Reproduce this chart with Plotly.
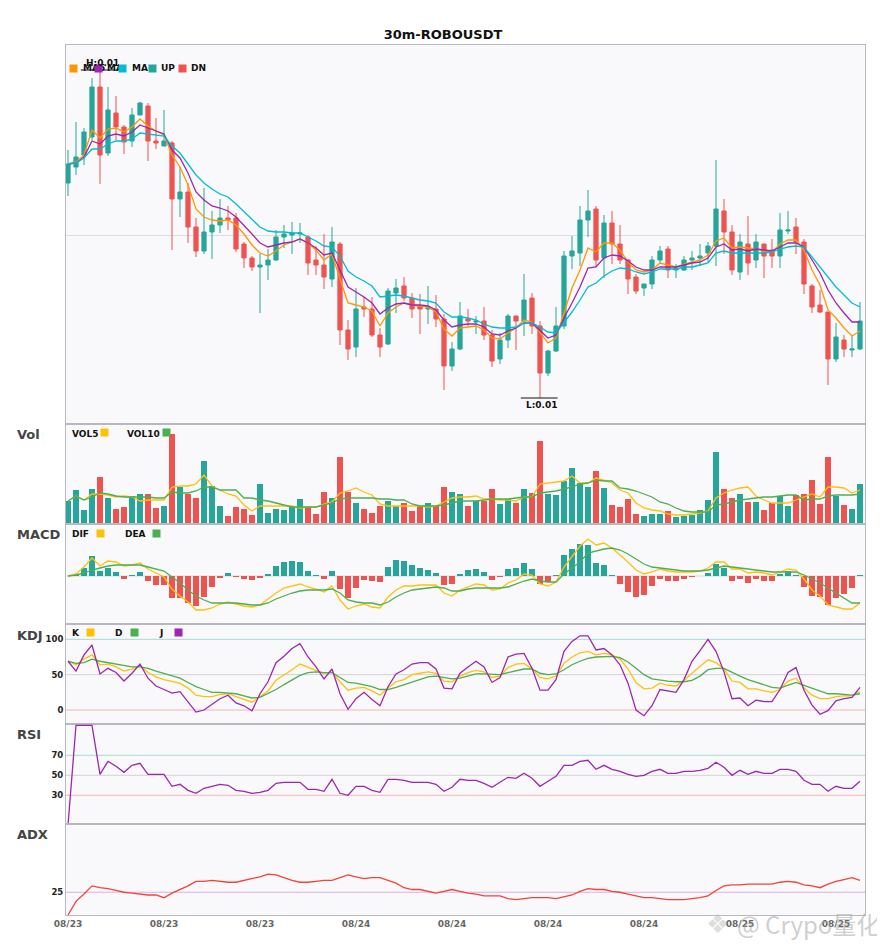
import plotly.graph_objects as go
from plotly.subplots import make_subplots

# --- DATA: 30m candles, 08/23 06:00 -> 08/25 05:30 ---
PRICE_UNIT = 1e-5  # price lists are in units of 0.00001 USDT

open_p = [1052, 1068, 1080, 1098, 1148, 1082, 1122, 1108, 1094, 1120,
          1129, 1094, 1089, 1092, 1036, 1043, 1008, 984, 1003, 1010,
          1017, 1017, 991, 977, 968, 970, 975, 998, 1000, 1001,
          998, 975, 970, 956, 991, 905, 888, 928, 926, 900,
          891, 942, 949, 937, 929, 926, 926, 916, 869, 886,
          916, 913, 914, 900, 876, 895, 919, 914, 937, 909,
          862, 884, 909, 979, 982, 1015, 1026, 977, 1012, 991,
          975, 958, 947, 951, 975, 986, 965, 965, 975, 977,
          982, 989, 1024, 1003, 963, 991, 975, 991, 985, 979,
          1004, 1008, 993, 949, 930, 923, 876, 895, 885, 886]
high_p = [1085, 1113, 1107, 1157, 1165, 1148, 1139, 1110, 1127, 1133,
          1132, 1117, 1125, 1094, 1068, 1052, 1017, 1047, 1024, 1036,
          1029, 1022, 993, 979, 981, 986, 1005, 1010, 1013, 1012,
          1000, 989, 1001, 1008, 993, 915, 947, 938, 938, 907,
          947, 956, 958, 942, 941, 949, 940, 921, 893, 933,
          926, 919, 928, 905, 902, 921, 919, 961, 942, 914,
          885, 928, 984, 999, 1029, 1045, 1029, 1020, 1024, 1010,
          976, 961, 951, 979, 989, 989, 971, 979, 984, 991,
          993, 1075, 1036, 1010, 1001, 1019, 1001, 991, 996, 1022,
          1024, 1017, 996, 951, 945, 923, 912, 900, 899, 933]
low_p = [1039, 1060, 1070, 1095, 1051, 1079, 1095, 1081, 1088, 1120,
         1074, 1086, 1089, 985, 1018, 992, 978, 981, 976, 1002,
         1005, 983, 967, 964, 922, 955, 974, 987, 981, 992,
         960, 960, 946, 948, 890, 875, 878, 918, 898, 878,
         890, 922, 934, 917, 901, 911, 908, 845, 864, 885,
         909, 901, 895, 868, 871, 887, 885, 899, 901, 837,
         859, 883, 906, 966, 969, 998, 968, 957, 971, 971,
         941, 941, 939, 946, 971, 957, 957, 964, 965, 969,
         973, 969, 981, 960, 955, 960, 967, 957, 967, 967,
         1001, 981, 941, 922, 922, 850, 873, 878, 878, 885]
close_p = [1071, 1078, 1103, 1148, 1080, 1125, 1108, 1093, 1120, 1132,
           1094, 1092, 1094, 1036, 1043, 1008, 984, 1003, 1010, 1017,
           1015, 986, 977, 968, 970, 975, 998, 1001, 1002, 1002,
           972, 970, 958, 993, 905, 886, 926, 926, 900, 888,
           944, 947, 937, 926, 926, 927, 916, 869, 886, 919,
           914, 914, 900, 874, 895, 919, 914, 935, 909, 862,
           884, 909, 979, 984, 1015, 1024, 975, 1012, 991, 975,
           956, 944, 951, 975, 984, 965, 967, 975, 977, 979,
           989, 1026, 1003, 965, 993, 972, 993, 979, 979, 1005,
           1005, 993, 951, 928, 923, 876, 898, 886, 886, 914]
ma5 = [1071, 1073, 1080, 1105, 1097, 1106, 1107, 1103, 1108, 1116,
       1109, 1104, 1100, 1080, 1068, 1050, 1026, 1018, 1015, 1014,
       1015, 1010, 1001, 990, 982, 979, 984, 990, 993, 996,
       992, 985, 975, 981, 956, 932, 930, 928, 924, 909,
       922, 928, 932, 930, 929, 928, 923, 906, 899, 907,
       908, 909, 905, 897, 896, 902, 907, 915, 913, 902,
       892, 897, 922, 947, 965, 987, 983, 992, 992, 985,
       973, 965, 963, 965, 972, 970, 968, 971, 973, 975,
       980, 994, 997, 987, 988, 987, 986, 984, 983, 991,
       995, 995, 985, 965, 950, 925, 917, 907, 899, 904]
ma10 = [1071, 1072, 1078, 1094, 1091, 1099, 1101, 1099, 1103, 1110,
        1107, 1104, 1101, 1085, 1077, 1062, 1043, 1035, 1029, 1027,
        1024, 1018, 1010, 1001, 992, 988, 990, 992, 993, 996,
        992, 987, 980, 982, 965, 948, 943, 938, 932, 921,
        927, 931, 932, 930, 930, 929, 925, 915, 908, 910,
        911, 911, 908, 901, 900, 904, 907, 912, 912, 904,
        897, 900, 917, 932, 948, 967, 968, 977, 980, 979,
        974, 968, 965, 965, 968, 968, 968, 970, 972, 973,
        977, 988, 991, 985, 986, 984, 986, 985, 984, 988,
        992, 992, 988, 975, 962, 945, 932, 922, 913, 913]
ma20 = [1071, 1072, 1077, 1086, 1086, 1091, 1094, 1094, 1096, 1102,
        1101, 1100, 1099, 1089, 1082, 1071, 1060, 1052, 1046, 1041,
        1038, 1031, 1023, 1015, 1008, 1004, 1003, 1003, 1002, 1002,
        998, 994, 989, 988, 979, 964, 958, 954, 949, 938,
        939, 940, 939, 937, 935, 934, 932, 923, 918, 918,
        917, 915, 911, 908, 907, 907, 908, 912, 912, 908,
        903, 902, 912, 923, 935, 948, 952, 959, 964, 967,
        966, 963, 961, 963, 966, 966, 966, 968, 968, 970,
        972, 982, 984, 982, 982, 982, 982, 982, 983, 986,
        988, 989, 988, 978, 969, 958, 948, 940, 932, 928]

volume = [23, 34, 14, 35, 47, 26, 15, 17, 28, 30,
          30, 16, 18, 90, 37, 30, 26, 63, 38, 18,
          8, 17, 15, 9, 40, 11, 15, 14, 18, 25,
          17, 10, 32, 26, 67, 32, 21, 15, 11, 18,
          23, 18, 21, 13, 18, 21, 18, 37, 32, 30,
          18, 23, 23, 35, 20, 25, 21, 35, 31, 83,
          30, 29, 43, 56, 41, 37, 53, 36, 19, 17,
          25, 10, 8, 10, 10, 13, 7, 8, 9, 14,
          24, 72, 35, 26, 30, 22, 22, 14, 21, 28,
          18, 29, 30, 44, 20, 67, 28, 19, 15, 40]
vol5 = [23, 28, 24, 30, 30, 29, 27, 28, 27, 23,
        24, 24, 24, 37, 38, 38, 40, 49, 38, 34,
        30, 28, 19, 13, 18, 18, 18, 18, 18, 16,
        17, 17, 20, 22, 31, 33, 36, 32, 29, 20,
        18, 18, 18, 18, 18, 17, 18, 22, 26, 27,
        27, 28, 25, 25, 24, 24, 23, 27, 27, 40,
        41, 42, 43, 48, 41, 41, 46, 44, 41, 34,
        31, 21, 16, 14, 13, 10, 9, 9, 10, 11,
        13, 26, 31, 34, 36, 37, 28, 24, 21, 21,
        21, 24, 27, 30, 27, 37, 37, 36, 31, 34]
vol10 = [23, 28, 24, 27, 31, 30, 28, 27, 27, 27,
         27, 26, 26, 32, 31, 31, 33, 37, 37, 34,
         34, 34, 26, 26, 24, 23, 21, 19, 17, 17,
         17, 17, 19, 21, 25, 26, 26, 26, 26, 25,
         25, 24, 24, 20, 18, 18, 18, 19, 21, 23,
         23, 23, 24, 25, 25, 25, 26, 27, 27, 31,
         32, 33, 35, 37, 40, 41, 44, 43, 43, 36,
         35, 33, 30, 27, 22, 20, 16, 13, 12, 12,
         12, 19, 20, 22, 24, 25, 26, 27, 27, 28,
         29, 29, 24, 25, 25, 28, 29, 29, 29, 30]

# MACD values in units of 1e-6
macd_hist = [0, 2, 8, 20, 5, 8, 4, -3, 1, 4,
             -5, -9, -9, -22, -22, -27, -30, -21, -11, -2,
             3, -1, -3, -4, -2, 2, 10, 14, 15, 14,
             5, 1, -3, 5, -13, -22, -12, -4, -5, -6,
             9, 16, 15, 11, 8, 6, 3, -9, -8, 2,
             6, 7, 4, -4, -1, 7, 8, 13, 7, -8,
             -6, 1, 21, 27, 32, 31, 13, 11, 1, -8,
             -16, -21, -19, -10, -3, -5, -5, -3, -1, 0,
             3, 12, 8, -5, -3, -7, -3, -5, -5, 2,
             5, 1, -11, -20, -21, -29, -22, -18, -12, 1]
dif = [0, 2, 9, 18, 10, 15, 14, 10, 11, 13,
       7, 3, -1, -13, -20, -26, -34, -34, -32, -28,
       -26, -28, -30, -31, -29, -23, -17, -12, -10, -8,
       -11, -13, -16, -10, -24, -33, -30, -28, -31, -32,
       -21, -14, -10, -10, -9, -9, -9, -17, -20, -14,
       -11, -8, -9, -14, -13, -7, -4, 2, 1, -8,
       -10, -6, 9, 19, 30, 37, 31, 33, 28, 21,
       14, 6, 2, 4, 7, 5, 4, 4, 4, 5,
       8, 14, 14, 7, 7, 3, 4, 3, 1, 4,
       7, 6, -3, -14, -20, -29, -31, -33, -33, -27]
dea = [0, 1, 3, 6, 8, 10, 11, 11, 11, 11,
       9, 7, 5, -1, -7, -14, -20, -24, -27, -27,
       -27, -27, -28, -29, -29, -27, -23, -20, -17, -15,
       -14, -14, -14, -13, -17, -24, -26, -27, -27, -29,
       -26, -21, -17, -14, -13, -12, -11, -12, -15, -15,
       -13, -12, -12, -12, -12, -11, -8, -5, -3, -5,
       -6, -6, 2, 8, 14, 23, 25, 27, 28, 26,
       22, 17, 12, 9, 8, 7, 6, 5, 5, 5,
       6, 8, 10, 9, 8, 7, 6, 5, 4, 4,
       4, 4, 1, -3, -7, -12, -17, -22, -27, -27]

k_line = [69, 64, 72, 78, 64, 65, 61, 55, 58, 63,
          53, 47, 43, 40, 38, 31, 21, 19, 19, 22,
          23, 19, 15, 11, 19, 27, 42, 49, 57, 65,
          60, 56, 52, 54, 40, 28, 31, 32, 27, 21,
          31, 40, 43, 50, 52, 54, 52, 41, 40, 48,
          53, 56, 54, 46, 48, 60, 65, 66, 58, 46,
          44, 48, 66, 75, 81, 83, 78, 80, 78, 72,
          58, 39, 30, 31, 38, 35, 34, 42, 52, 61,
          71, 67, 58, 41, 39, 30, 30, 27, 25, 29,
          41, 45, 31, 21, 16, 16, 19, 20, 20, 26]
d_line = [69, 66, 67, 72, 69, 67, 65, 62, 61, 61,
          59, 55, 52, 49, 45, 39, 33, 29, 25, 25,
          24, 23, 20, 17, 18, 23, 29, 36, 42, 49,
          53, 54, 53, 53, 46, 39, 38, 36, 33, 29,
          29, 32, 36, 39, 44, 47, 48, 46, 44, 45,
          48, 51, 51, 50, 50, 53, 55, 58, 58, 52,
          50, 51, 57, 64, 69, 73, 75, 75, 76, 74,
          68, 59, 50, 44, 42, 41, 40, 40, 42, 48,
          57, 59, 59, 53, 48, 43, 39, 35, 32, 31,
          35, 39, 35, 31, 26, 23, 23, 22, 21, 23]
j_line = [69, 55, 78, 92, 51, 59, 53, 41, 52, 65,
          45, 34, 29, 24, 26, 12, -3, 0, 8, 16,
          21, 10, 6, -1, 23, 40, 67, 76, 87, 94,
          75, 61, 44, 58, 23, 1, 16, 25, 15, 6,
          33, 51, 57, 65, 67, 67, 58, 31, 30, 52,
          61, 69, 61, 39, 46, 75, 79, 80, 59, 28,
          28, 43, 83, 97, 105, 105, 85, 87, 78, 64,
          38, 0, -8, 6, 29, 27, 25, 43, 69, 84,
          100, 83, 54, 16, 17, 6, 14, 12, 12, 29,
          53, 60, 28, 7, -6, -1, 13, 16, 18, 32]
rsi = [0, 100, 100, 100, 51, 64, 59, 53, 60, 62,
       51, 51, 51, 39, 41, 35, 32, 37, 39, 41,
       40, 35, 34, 32, 33, 35, 42, 43, 43, 43,
       36, 36, 34, 46, 32, 30, 39, 39, 35, 33,
       46, 46, 45, 43, 43, 43, 41, 34, 38, 46,
       45, 45, 42, 38, 43, 48, 47, 52, 47, 39,
       44, 49, 60, 60, 64, 65, 56, 60, 56, 54,
       51, 49, 50, 54, 56, 52, 52, 54, 54, 55,
       57, 63, 58, 50, 55, 51, 54, 52, 52, 56,
       56, 54, 45, 41, 41, 34, 39, 37, 37, 44]
adx = [0, 15, 23, 32, 30, 29, 27, 25, 24, 23,
       22, 22, 19, 24, 28, 32, 37, 37, 38, 37,
       36, 36, 38, 40, 42, 45, 44, 41, 38, 36,
       36, 37, 38, 38, 41, 44, 42, 40, 41, 41,
       38, 35, 30, 28, 28, 26, 24, 26, 28, 26,
       24, 23, 21, 21, 21, 18, 17, 18, 19, 19,
       19, 18, 20, 22, 26, 29, 28, 28, 26, 25,
       23, 21, 19, 19, 18, 17, 17, 17, 18, 19,
       21, 27, 32, 33, 33, 34, 34, 34, 34, 36,
       37, 36, 33, 32, 30, 34, 37, 39, 41, 38]

tick_labels = ["08/23", "08/23", "08/23", "08/24", "08/24",
               "08/24", "08/24", "08/25", "08/25"]

# --- STYLE ---
UP, DN = "#26a69a", "#ef5350"
ORANGE, PURPLE, CYAN = "#ff9800", "#9c27b0", "#00bcd4"
YELLOW, GREEN = "#ffc107", "#4caf50"
FONT = "DejaVu Sans"

n = len(close_p)
idx = list(range(n))
o = [v * PRICE_UNIT for v in open_p]
h = [v * PRICE_UNIT for v in high_p]
l = [v * PRICE_UNIT for v in low_p]
c = [v * PRICE_UNIT for v in close_p]
candle_colors = [UP if cc >= oo else DN for oo, cc in zip(open_p, close_p)]
hist_colors = [UP if v >= 0 else DN for v in macd_hist]

fig = make_subplots(rows=6, cols=1, shared_xaxes=True, vertical_spacing=0,
                    row_heights=[379, 100, 100, 100, 100, 91])

def line(y, color, row, scale=1.0, width=1.3):
    fig.add_trace(go.Scatter(x=idx, y=[v * scale for v in y], mode="lines",
                             line=dict(color=color, width=width),
                             hoverinfo="skip"), row=row, col=1)

# Main candles + MAs
fig.add_trace(go.Candlestick(
    x=idx, open=o, high=h, low=l, close=c, whiskerwidth=0,
    increasing=dict(line=dict(color=UP, width=1), fillcolor=UP),
    decreasing=dict(line=dict(color=DN, width=1), fillcolor=DN)), row=1, col=1)
line(ma5, ORANGE, 1, PRICE_UNIT)
line(ma10, PURPLE, 1, PRICE_UNIT)
line(ma20, CYAN, 1, PRICE_UNIT)

# Volume
fig.add_trace(go.Bar(x=idx, y=volume, marker=dict(color=candle_colors, line=dict(width=0)),
                     width=0.75), row=2, col=1)
line(vol5, YELLOW, 2)
line(vol10, GREEN, 2)

# MACD
fig.add_trace(go.Bar(x=idx, y=macd_hist, marker=dict(color=hist_colors, line=dict(width=0)),
                     width=0.75), row=3, col=1)
line(dif, YELLOW, 3)
line(dea, GREEN, 3)

# KDJ / RSI / ADX
line(k_line, YELLOW, 4)
line(d_line, GREEN, 4)
line(j_line, PURPLE, 4)
line(rsi, PURPLE, 5)
line(adx, "#f44336", 6)

# reference lines
for y, col in [(100, "#a6dad7"), (50, "#d2d2d6"), (0, "#f6b4b4")]:
    fig.add_hline(y=y, line=dict(color=col, width=1), row=4, col=1, layer="below")
for y, col in [(70, "#a6dad7"), (50, "#d2d2d6"), (30, "#f6b4b4")]:
    fig.add_hline(y=y, line=dict(color=col, width=1), row=5, col=1, layer="below")
fig.add_hline(y=25, line=dict(color="#dcaee6", width=1), row=6, col=1, layer="below")
fig.add_hline(y=0, line=dict(color="#d8d8dc", width=1), row=3, col=1, layer="below")

# --- AXES ---
axis_line = dict(showline=True, mirror=True, linecolor="#b8b8c0", linewidth=1)
fig.update_xaxes(range=[-0.25, 99.625], showgrid=False, zeroline=False,
                 showticklabels=False, rangeslider_visible=False, **axis_line)
fig.update_xaxes(row=6, col=1, showticklabels=True,
                 tickvals=list(range(0, n, 12)), ticktext=tick_labels,
                 tickfont=dict(family=FONT, size=9, color="#666666", weight="bold"))
fig.update_yaxes(zeroline=False, showgrid=False, showticklabels=False, **axis_line)
fig.update_yaxes(row=1, col=1, range=[811 * PRICE_UNIT, 1190 * PRICE_UNIT],
                 tickvals=[0.01], showgrid=True, gridcolor="#dedee2")
fig.update_yaxes(row=2, col=1, range=[0, 100])
fig.update_yaxes(row=3, col=1, range=[-48, 52])
ytick = dict(family=FONT, size=8.5, color="#222222", weight="bold")
fig.update_yaxes(row=4, col=1, range=[-19.8, 121.7], showticklabels=True,
                 tickvals=[0, 50, 100], tickfont=ytick)
fig.update_yaxes(row=5, col=1, range=[1.3, 101.3], showticklabels=True,
                 tickvals=[30, 50, 70], tickfont=ytick)
fig.update_yaxes(row=6, col=1, range=[0, 100], showticklabels=True,
                 tickvals=[25], tickfont=ytick)

# --- ANNOTATIONS (page pixels -> paper; plot area spans x 66..865, y 45..915) ---
def px(x):
    return (x - 66) / 799

def py(y):
    return (915 - y) / 870

annotations = []

def label(x, y, text, size=9, color="#111111", width=None):
    a = dict(x=px(x), y=py(y), xref="paper", yref="paper", text=text,
             showarrow=False, xanchor="left", yanchor="middle", align="left",
             font=dict(family=FONT, size=size, color=color, weight="bold"))
    if width:
        a.update(width=width, borderpad=0)
    annotations.append(a)

def square(xc, yc, color):
    annotations.append(dict(x=px(xc), y=py(yc), xref="paper", yref="paper", text=" ",
                            showarrow=False, xanchor="center", yanchor="middle",
                            width=7, height=7, bgcolor=color, borderpad=0,
                            font=dict(size=1)))

for name, y in [("Vol", 434), ("MACD", 534), ("KDJ", 635), ("RSI", 734), ("ADX", 834)]:
    label(15, y, name, size=13, color="#444444")

# main legend: items packed tightly, each swatch drawn over the previous name
for xc, col, name, tx, w in [(73.5, ORANGE, "MA5", 81, None), (98, PURPLE, "MA10", 106, 12),
                             (122, CYAN, "MA20", 131, 16), (152, UP, "UP", 159, None),
                             (182, DN, "DN", 189, None)]:
    square(xc, 68.5, col)
    label(tx, 68.5, name, width=w)
# panel legends
label(70, 434, "VOL5"); square(104.5, 433, YELLOW)
label(125, 434, "VOL10"); square(166.5, 433, GREEN)
label(70, 534, "DIF"); square(100.5, 533, YELLOW)
label(123, 534, "DEA"); square(156.5, 533, GREEN)
label(70, 633, "K"); square(90.5, 632, YELLOW)
label(113, 633, "D"); square(134.5, 632, GREEN)
label(157, 633, "J"); square(178.5, 632, PURPLE)

# high / low markers
shapes = []
hi_i = max(idx, key=lambda i: high_p[i])
lo_i = min(idx, key=lambda i: low_p[i])
for i, val, txt, anchor in [(hi_i, h[hi_i], "H", "bottom"), (lo_i, l[lo_i], "L", "top")]:
    shapes.append(dict(type="line", xref="x", yref="y", x0=i - 2.4, x1=i + 2.2,
                       y0=val, y1=val, line=dict(color="#111111", width=1.2)))
    annotations.append(dict(x=i + 0.3, y=val, xref="x", yref="y", text=f"{txt}:{val:.2f}",
                            showarrow=False, yanchor=anchor, xanchor="center",
                            font=dict(family=FONT, size=9, color="#111111", weight="bold")))

# watermark
annotations.append(dict(x=px(717), y=py(924), xref="paper", yref="paper", text="❖",
                        showarrow=False, xanchor="center", yanchor="middle",
                        font=dict(family=FONT, size=26, color="rgba(190,190,190,0.5)")))
annotations.append(dict(x=px(735), y=py(924), xref="paper", yref="paper",
                        text="@ Crypo量化", showarrow=False, xanchor="left", yanchor="middle",
                        font=dict(family="Noto Sans CJK SC", size=24,
                                  color="rgba(165,165,165,0.55)")))

# the page body adds an 8px offset, so the figure is 8px smaller than the window
fig.update_layout(
    width=877, height=942,
    margin=dict(l=58, r=20, t=37, b=35),
    paper_bgcolor="white", plot_bgcolor="#f9f9fb",
    showlegend=False, boxgap=0.25, bargap=0,
    title=dict(text="<b>30m-ROBOUSDT</b>", x=435 / 877, xanchor="center",
               y=1 - 26 / 942, yanchor="middle",
               font=dict(family=FONT, size=13, color="#111111")),
    font=dict(family=FONT),
    shapes=list(fig.layout.shapes) + shapes,
    annotations=annotations,
)

fig.write_html("out.html")
